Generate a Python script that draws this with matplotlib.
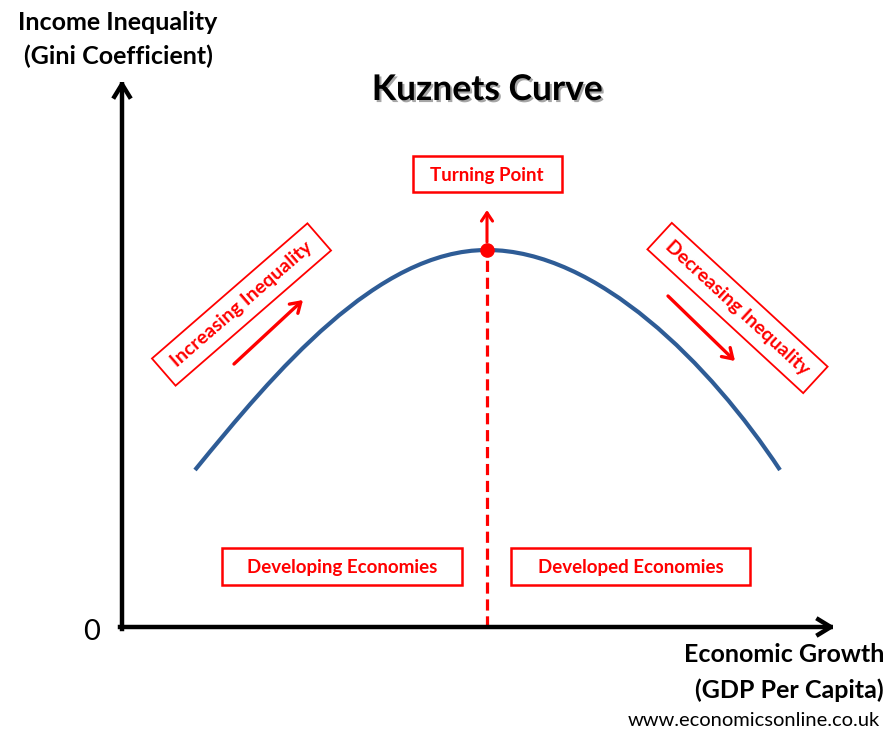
import numpy as np
import matplotlib.pyplot as plt
from matplotlib.patches import Rectangle, PathPatch
from matplotlib.path import Path
import matplotlib.patheffects as pe

# Curve (origin at the axes corner, 1 unit = 1 px),
# as two cubic Bezier halves: start, control, control, peak, control, control, end
curve_x = [73, 153, 255, 365, 475, 588, 658]
curve_y = [157, 255, 377, 377, 377, 263, 157]

title = 'Kuznets Curve'
y_label = ['Income Inequality', '(Gini Coefficient)']
x_label = ['Economic Growth', '(GDP Per Capita)']
zone_labels = ['Developing Economies', 'Developed Economies']
credit = 'www.economicsonline.co.uk'

RED = '#FF0000'
BLUE = '#2E5C96'
FONT = 'Lato'

fig = plt.figure(figsize=(8.96, 7.38), dpi=100)
ax = fig.add_axes([0, 0, 1, 1])
ax.set_xlim(-122, 774)
ax.set_ylim(-111, 627)
ax.axis('off')

# axes arrows
arrow_kw = dict(arrowstyle='->,head_length=0.9,head_width=0.55', lw=3.2, color='black',
                shrinkA=0, shrinkB=0, capstyle='projecting')
ax.annotate('', xy=(0, 547), xytext=(0, -2), arrowprops=arrow_kw)
ax.annotate('', xy=(713, 0), xytext=(-2, 0), arrowprops=arrow_kw)
ax.text(-30, -5, '0', fontsize=21, family=FONT, ha='center', va='center')

# axis labels
for i, line in enumerate(y_label):
    ax.text(-4, 605 - 34 * i, line, fontsize=18, family=FONT, weight='bold',
            ha='center', va='center')
for i, line in enumerate(x_label):
    ax.text(762, -28 - 35 * i, line, fontsize=18, family=FONT, weight='bold',
            ha='right', va='center')
ax.text(758, -93, credit, fontsize=14.5, family=FONT, ha='right', va='center')

# title with soft shadow
ax.text(365, 537, title, fontsize=25.5, family=FONT, weight='bold', ha='center', va='center',
        path_effects=[pe.SimplePatchShadow(offset=(1.5, -1.5), alpha=0.35), pe.Normal()])

# the curve
codes = [Path.MOVETO] + [Path.CURVE4] * 6
curve = Path(np.column_stack([curve_x, curve_y]), codes)
ax.add_patch(PathPatch(curve, fill=False, ec=BLUE, lw=3.0, capstyle='butt', zorder=3))

# turning point
peak = 3
px, py = curve_x[peak], curve_y[peak]
ax.plot([px, px], [0, py], color=RED, lw=2.3, ls=(0, (3.5, 1.8)), zorder=2)
ax.plot(px, py, 'o', color=RED, ms=9.5, zorder=4)
ax.annotate('', xy=(px, py + 40), xytext=(px, py + 8),
            arrowprops=dict(arrowstyle='->,head_length=0.6,head_width=0.4', lw=2.2,
                            color=RED, shrinkA=0, shrinkB=0))
ax.add_patch(Rectangle((291, 435), 149, 36, fill=False, ec=RED, lw=1.8))
ax.text(px, 452, 'Turning Point', fontsize=13.5, family=FONT, weight='bold', color=RED,
        ha='center', va='center')

# zone boxes
for (x0, x1), label in zip([(100, 340), (389, 628)], zone_labels):
    ax.add_patch(Rectangle((x0, 42), x1 - x0, 37, fill=False, ec=RED, lw=1.8))
    ax.text((x0 + x1) / 2, 60, label, fontsize=13.5, family=FONT, weight='bold', color=RED,
            ha='center', va='center')

# slanted notes
for (cx, cy), w, ang, label in [((119.5, 322.5), 206, 41, 'Increasing Inequality'),
                                ((615.5, 319), 212, -42.7, 'Decreasing Inequality')]:
    ax.add_patch(Rectangle((cx - w / 2, cy - 18), w, 36, angle=ang, rotation_point='center',
                           fill=False, ec=RED, lw=1.3))
    ax.text(cx, cy, label, fontsize=14, family=FONT, weight='bold', color=RED,
            ha='center', va='center', rotation=ang, rotation_mode='anchor')

red_kw = dict(arrowstyle='->,head_length=0.7,head_width=0.45', lw=2.4, color=RED,
              shrinkA=0, shrinkB=0)
ax.annotate('', xy=(181, 327), xytext=(112, 263), arrowprops=red_kw)
ax.annotate('', xy=(613, 266), xytext=(546, 331), arrowprops=red_kw)

fig.savefig('out.png', dpi=100)
